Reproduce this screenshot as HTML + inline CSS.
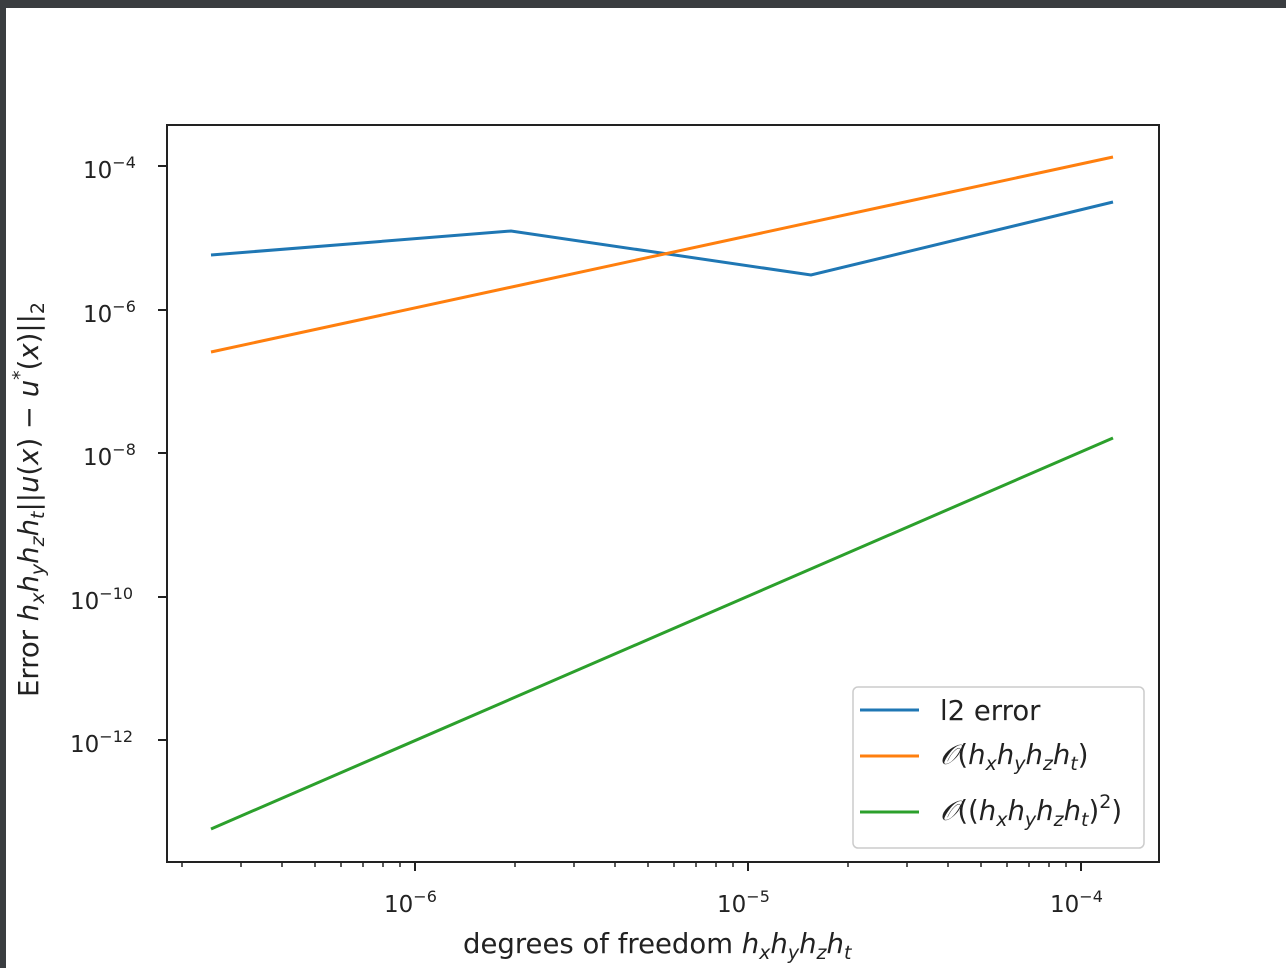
<!DOCTYPE html>
<html><head><meta charset="utf-8"><style>
html,body{margin:0;padding:0;background:#fff;}
svg{display:block;font-family:"DejaVu Sans","Liberation Sans",sans-serif;}
</style></head><body>
<svg width="1286" height="968" viewBox="0 0 1286 968" xmlns="http://www.w3.org/2000/svg">
<rect x="0" y="0" width="1286" height="968" fill="#fff"/>
<rect x="0" y="0" width="1286" height="8" fill="#3a3d40"/>
<rect x="0" y="0" width="6" height="968" fill="#3a3d40"/>
<polyline points="211,255 511,231 811,275 1113,202" fill="none" stroke="#1f77b4" stroke-width="3"/>
<polyline points="211,352 1113,157" fill="none" stroke="#ff7f0e" stroke-width="3"/>
<polyline points="211,829 1113,438" fill="none" stroke="#2ca02c" stroke-width="3"/>
<rect x="167" y="125" width="992" height="737" fill="none" stroke="#222" stroke-width="2"/>
<g stroke="#222" stroke-width="2">
<line x1="415" y1="862" x2="415" y2="871"/><line x1="748" y1="862" x2="748" y2="871"/><line x1="1081" y1="862" x2="1081" y2="871"/>
<line x1="158" y1="166" x2="167" y2="166"/><line x1="158" y1="310" x2="167" y2="310"/><line x1="158" y1="453" x2="167" y2="453"/><line x1="158" y1="597" x2="167" y2="597"/><line x1="158" y1="740" x2="167" y2="740"/>
</g>
<g stroke="#222" stroke-width="1.5">
<line x1="182" y1="862" x2="182" y2="867"/><line x1="241" y1="862" x2="241" y2="867"/><line x1="282" y1="862" x2="282" y2="867"/><line x1="315" y1="862" x2="315" y2="867"/><line x1="341" y1="862" x2="341" y2="867"/><line x1="363" y1="862" x2="363" y2="867"/><line x1="383" y1="862" x2="383" y2="867"/><line x1="400" y1="862" x2="400" y2="867"/>
<line x1="515" y1="862" x2="515" y2="867"/><line x1="574" y1="862" x2="574" y2="867"/><line x1="615" y1="862" x2="615" y2="867"/><line x1="648" y1="862" x2="648" y2="867"/><line x1="674" y1="862" x2="674" y2="867"/><line x1="696" y1="862" x2="696" y2="867"/><line x1="716" y1="862" x2="716" y2="867"/><line x1="733" y1="862" x2="733" y2="867"/>
<line x1="848" y1="862" x2="848" y2="867"/><line x1="907" y1="862" x2="907" y2="867"/><line x1="948" y1="862" x2="948" y2="867"/><line x1="981" y1="862" x2="981" y2="867"/><line x1="1007" y1="862" x2="1007" y2="867"/><line x1="1029" y1="862" x2="1029" y2="867"/><line x1="1049" y1="862" x2="1049" y2="867"/><line x1="1066" y1="862" x2="1066" y2="867"/>
</g>
<g fill="#222" font-size="23">
<text x="384" y="912">10<tspan font-size="16" dy="-10">−6</tspan></text>
<text x="717" y="912">10<tspan font-size="16" dy="-10">−5</tspan></text>
<text x="1050" y="912">10<tspan font-size="16" dy="-10">−4</tspan></text>
<text x="83" y="178">10<tspan font-size="16" dy="-10">−4</tspan></text>
<text x="83" y="322">10<tspan font-size="16" dy="-10">−6</tspan></text>
<text x="83" y="465">10<tspan font-size="16" dy="-10">−8</tspan></text>
<text x="70" y="609">10<tspan font-size="16" dy="-10">−10</tspan></text>
<text x="70" y="752">10<tspan font-size="16" dy="-10">−12</tspan></text>
</g>
<g fill="#222" font-size="27.5">
<text x="463" y="953">degrees of freedom <tspan font-style="italic">h<tspan font-size="19" dy="6">x</tspan><tspan dy="-6">h</tspan><tspan font-size="19" dy="6">y</tspan><tspan dy="-6">h</tspan><tspan font-size="19" dy="6">z</tspan><tspan dy="-6">h</tspan><tspan font-size="19" dy="6">t</tspan></tspan></text>
<text transform="translate(38,697) rotate(-90)">Error <tspan font-style="italic">h<tspan font-size="19" dy="6">x</tspan><tspan dy="-6">h</tspan><tspan font-size="19" dy="6">y</tspan><tspan dy="-6">h</tspan><tspan font-size="19" dy="6">z</tspan><tspan dy="-6">h</tspan><tspan font-size="19" dy="6">t</tspan><tspan dy="-6" font-style="normal">||</tspan>u<tspan font-style="normal">(</tspan>x<tspan font-style="normal">) − </tspan>u<tspan font-size="19" dy="-12">*</tspan><tspan dy="12" font-style="normal">(</tspan>x<tspan font-style="normal">)||</tspan><tspan font-style="normal" font-size="19" dy="6">2</tspan></tspan></text>
</g>
<rect x="853" y="687" width="291" height="161" rx="5" fill="#fff" stroke="#ccc" stroke-width="1.5"/>
<line x1="860" y1="710" x2="919" y2="710" stroke="#1f77b4" stroke-width="3"/>
<line x1="860" y1="756" x2="919" y2="756" stroke="#ff7f0e" stroke-width="3"/>
<line x1="860" y1="812" x2="919" y2="812" stroke="#2ca02c" stroke-width="3"/>
<g fill="#222" font-size="27.5">
<text x="940" y="720">l2 error</text>
<text x="940" y="764" font-style="italic">𝒪<tspan font-style="normal">(</tspan>h<tspan font-size="19" dy="6">x</tspan><tspan dy="-6">h</tspan><tspan font-size="19" dy="6">y</tspan><tspan dy="-6">h</tspan><tspan font-size="19" dy="6">z</tspan><tspan dy="-6">h</tspan><tspan font-size="19" dy="6">t</tspan><tspan dy="-6" font-style="normal">)</tspan></text>
<text x="940" y="820" font-style="italic">𝒪<tspan font-style="normal">((</tspan>h<tspan font-size="19" dy="6">x</tspan><tspan dy="-6">h</tspan><tspan font-size="19" dy="6">y</tspan><tspan dy="-6">h</tspan><tspan font-size="19" dy="6">z</tspan><tspan dy="-6">h</tspan><tspan font-size="19" dy="6">t</tspan><tspan dy="-6" font-style="normal">)</tspan><tspan font-style="normal" font-size="19" dy="-12">2</tspan><tspan font-style="normal" dy="12">)</tspan></text>
</g>
</svg>
</body></html>
